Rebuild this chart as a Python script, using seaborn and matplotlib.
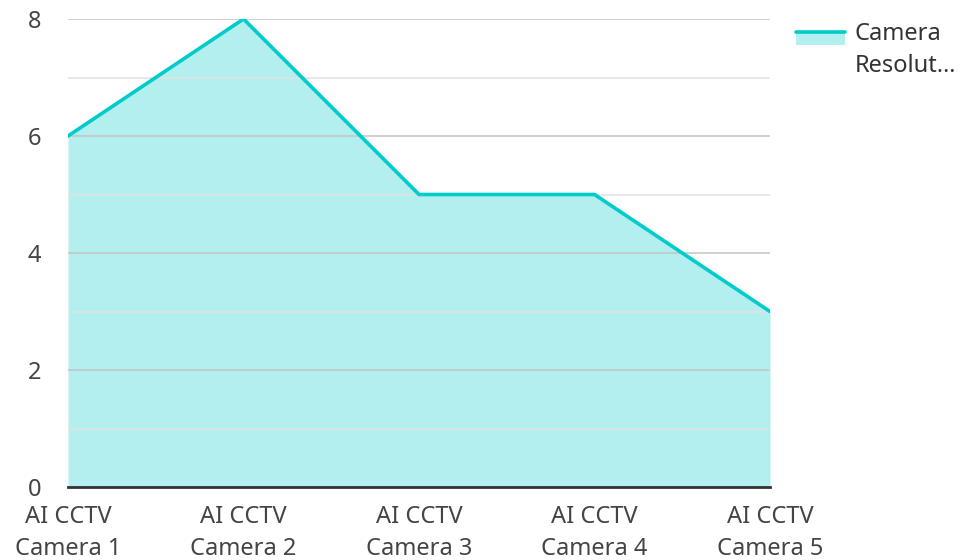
import matplotlib
matplotlib.use("Agg")
import matplotlib.pyplot as plt
import seaborn as sns
import pandas as pd
from matplotlib.patches import Rectangle
from matplotlib.lines import Line2D
from matplotlib.legend_handler import HandlerBase

cameras = ["AI CCTV\nCamera 1", "AI CCTV\nCamera 2", "AI CCTV\nCamera 3",
           "AI CCTV\nCamera 4", "AI CCTV\nCamera 5"]
resolution = [6, 8, 5, 5, 3]
series_name = "Camera\nResolut…"
y_ticks = [0, 2, 4, 6, 8]

LINE = "#00CCCC"
FILL = "#B2EFEE"

sns.set_theme(style="white")
plt.rcParams["font.family"] = ["Noto Sans", "DejaVu Sans"]

df = pd.DataFrame({"pos": range(len(cameras)), "value": resolution})

fig = plt.figure(figsize=(9.62, 5.60), dpi=100)
ax = fig.add_axes([68/962, 1-487/560, (770-68)/962, (487-19)/560])

ax.fill_between(df["pos"], df["value"], 0, color=FILL, linewidth=0, zorder=1)
sns.lineplot(data=df, x="pos", y="value", color=LINE, linewidth=2.6, ax=ax,
             zorder=3, legend=False)

ax.set_xlim(0, len(cameras) - 1)
ax.set_ylim(0, 8)
ax.set_yticks(y_ticks)
ax.set_yticks(range(0, 9), minor=True)
ax.set_axisbelow(False)
ax.grid(which="major", axis="y", color="#C4C4C4", linewidth=1.1)
ax.grid(which="minor", axis="y", color="#E2E2E2", linewidth=1.1)

ax.set_xticks(list(df["pos"]))
ax.set_xticklabels(cameras)
ax.tick_params(axis="both", which="both", labelsize=17, colors="#444444", length=0)
ax.tick_params(axis="y", pad=24, which="both")
ax.tick_params(axis="x", pad=13)
for lab in ax.get_yticklabels():
    lab.set_horizontalalignment("center")
for lab in ax.get_xticklabels():
    lab.set_linespacing(1.42)
ax.set_xlabel("")
ax.set_ylabel("")
for s in ["top", "right", "left"]:
    ax.spines[s].set_visible(False)
ax.spines["bottom"].set_color("#333333")
ax.spines["bottom"].set_linewidth(2)
ax.spines["bottom"].set_zorder(4)


class AreaHandler(HandlerBase):
    def create_artists(self, legend, orig_handle, xdescent, ydescent,
                       width, height, fontsize, trans):
        shift = 8.6
        y0 = -ydescent + shift
        r = Rectangle((-xdescent, y0), width, height,
                      facecolor=FILL, edgecolor="none", transform=trans)
        ln = Line2D([-xdescent, -xdescent + width], [y0 + height, y0 + height],
                    color=LINE, linewidth=2.6, transform=trans)
        return [r, ln]


handle = Rectangle((0, 0), 1, 1)
leg = fig.legend([handle], [series_name], handler_map={Rectangle: AreaHandler()},
                 loc="upper left", bbox_to_anchor=(796/962, 1-22/560), frameon=False,
                 fontsize=17, labelcolor="#333333", handlelength=2.07, handleheight=0.5,
                 handletextpad=0.42, borderaxespad=0, borderpad=0)
for t in leg.get_texts():
    t.set_linespacing(1.42)

fig.savefig("out.png", dpi=100)
